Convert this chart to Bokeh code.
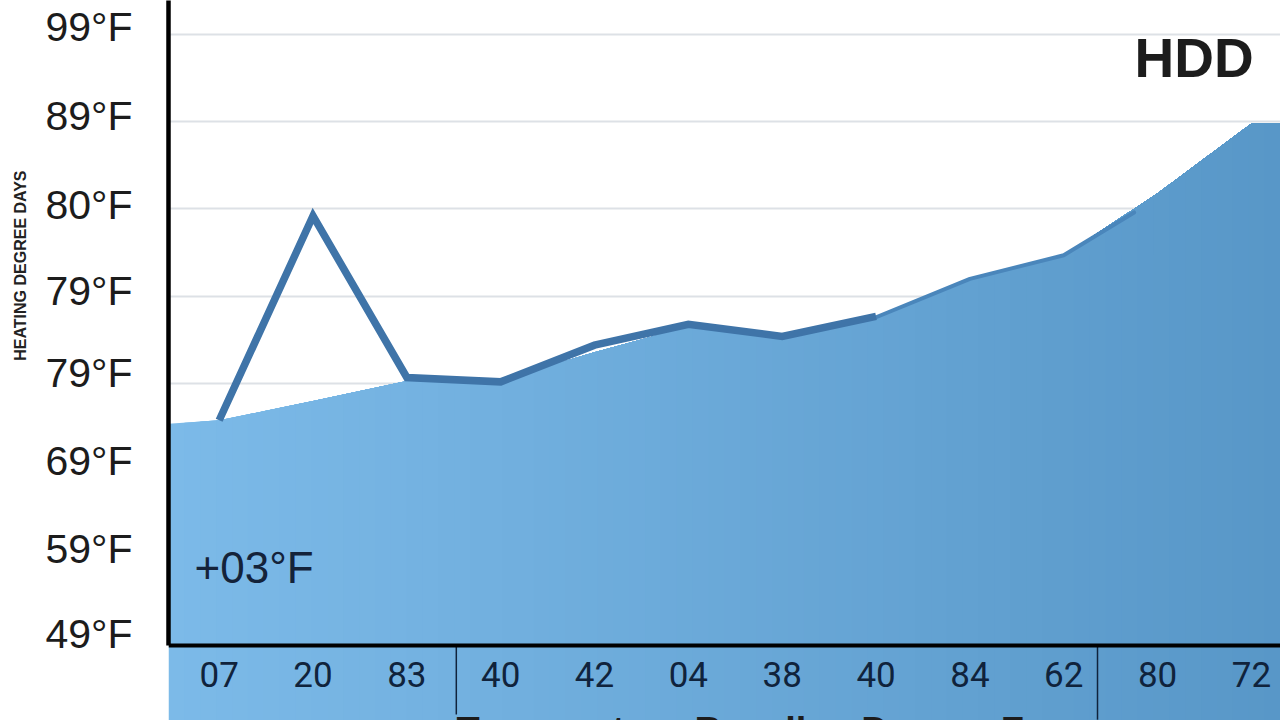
import numpy as np
from bokeh.plotting import figure
from bokeh.models import LinearAxis, FixedTicker, Label, Title
from bokeh.embed import file_html
from bokeh.resources import INLINE

# Category labels and axis labels as printed in the chart
x_labels = ["07", "20", "83", "40", "42", "04", "38", "40", "84", "62", "80", "72"]
y_labels = ["49°F", "59°F", "69°F", "79°F", "79°F", "80°F", "89°F", "99°F"]
# Where the y labels sit, in y-axis steps (they drift slightly above their gridlines)
y_label_positions = [0.137, 1.111, 2.119, 3.116, 4.066, 5.05, 6.07, 7.09]

# Values, in y-axis steps above the lowest tick (49°F = 0), one per category.
# The line is dark up to category 7; after that it is a faint band on the area's edge.
line_values = [2.58, 4.92, 3.07, 3.02, 3.44, 3.68, 3.54, 3.77]
line_categories = [0, 1, 2, 3, 4, 5, 6, 7]
faint_values = [3.76, 4.2, 4.47, 4.96]
faint_categories = [7, 8, 9, 9.75]
# Filled area, with its own x positions in category units
area_x = [-0.54, 0.0, 1.0, 2.0, 3.0, 4.0, 5.0, 6.0, 7.0, 8.0, 9.0, 10.0, 11.0, 11.31]
area_values = [2.54, 2.58, 2.80, 3.03, 3.04, 3.36, 3.65, 3.54, 3.75, 4.20, 4.47, 5.18, 5.98, 5.98]
separators = [2.527, 9.36]
separator_top = [0.0, 0.0]
separator_bottom = [-0.79, -0.85]
x_start, x_end = -0.54, 11.31
y_start, y_end = -0.859, 7.388
gradient_left = (124, 186, 232)
gradient_right = (88, 151, 200)
strips = 70

TEXT = "#1c1c1c"
NAVY = "#10233c"

p = figure(width=1280, height=720, output_backend="svg", toolbar_location=None,
           x_range=(x_start, x_end), y_range=(y_start, y_end),
           x_axis_location=None, y_axis_location=None,
           min_border_left=168, min_border_right=0, min_border_top=0, min_border_bottom=0,
           background_fill_color="white", border_fill_color="white", outline_line_color=None)

# Gradient fill: overlapping polygons painted left to right
edges = np.linspace(x_start, x_end, strips + 1)
xs, ys, colors = [], [], []
for i, e in enumerate(edges[:-1]):
    t = i / (strips - 1)
    c = [round(a + (b - a) * t) for a, b in zip(gradient_left, gradient_right)]
    keep = [j for j, v in enumerate(area_x) if v > e]
    px = [e] + [area_x[j] for j in keep]
    py = [float(np.interp(e, area_x, area_values))] + [area_values[j] for j in keep]
    xs.append(px + [x_end, e])
    ys.append(py + [y_start, y_start])
    colors.append("#%02x%02x%02x" % tuple(c))

p.xgrid.visible = False
yaxis = LinearAxis(ticker=FixedTicker(ticks=y_label_positions),
                   major_label_overrides=dict(zip(y_label_positions, y_labels)),
                   major_label_text_font="Liberation Sans", major_label_text_font_size="41px",
                   major_label_text_color=TEXT, major_label_standoff=30,
                   major_tick_line_color=None, minor_tick_line_color=None,
                   axis_line_color="#000000", axis_line_width=4.5, bounds=(0, y_end))
p.add_layout(yaxis, "left")
p.add_layout(Title(text="HEATING DEGREE DAYS", align="right", offset=170, standoff=23,
                   vertical_align="top",
                   text_font="Liberation Sans", text_font_style="bold",
                   text_font_size="16px", text_color="#222222"), "left")
p.ygrid.ticker = FixedTicker(ticks=list(range(len(y_labels))))
p.ygrid.grid_line_color = "#dde1e6"
p.ygrid.grid_line_width = 2

p.patches(xs, ys, fill_color=colors, line_color=None)
p.line(faint_categories, faint_values, line_color="#4a86bb", line_width=4, line_cap="round")
p.line(line_categories, line_values, line_color="#3f74a8", line_width=7.5, line_join="miter")

xaxis = LinearAxis(ticker=FixedTicker(ticks=list(range(len(x_labels)))),
                   major_label_overrides={i: s for i, s in enumerate(x_labels)},
                   major_label_text_font="Roboto", major_label_text_font_size="35px",
                   major_label_text_color=NAVY, major_label_standoff=10,
                   major_tick_line_color=None, minor_tick_line_color=None,
                   axis_line_color="#000000", axis_line_width=4,
                   fixed_location=0)
p.add_layout(xaxis, "below")

p.segment(separators, separator_top, separators, separator_bottom,
          line_color=NAVY, line_width=1.5)

p.add_layout(Label(x=966, y=632, x_units="screen", y_units="screen", text="HDD",
                   text_font="Liberation Sans", text_font_style="bold",
                   text_font_size="55px", text_color=TEXT))
p.add_layout(Label(x=26, y=129, x_units="screen", y_units="screen", text="+03°F",
                   text_font="Liberation Sans", text_font_size="44px", text_color="#14233a"))
p.add_layout(Label(x=288, y=-31, x_units="screen", y_units="screen",
                   text="Temperature Baseline Degree F",
                   text_font="Liberation Sans", text_font_style="bold",
                   text_font_size="38px", text_color=TEXT))

open("out.html", "w").write(file_html(p, INLINE))
